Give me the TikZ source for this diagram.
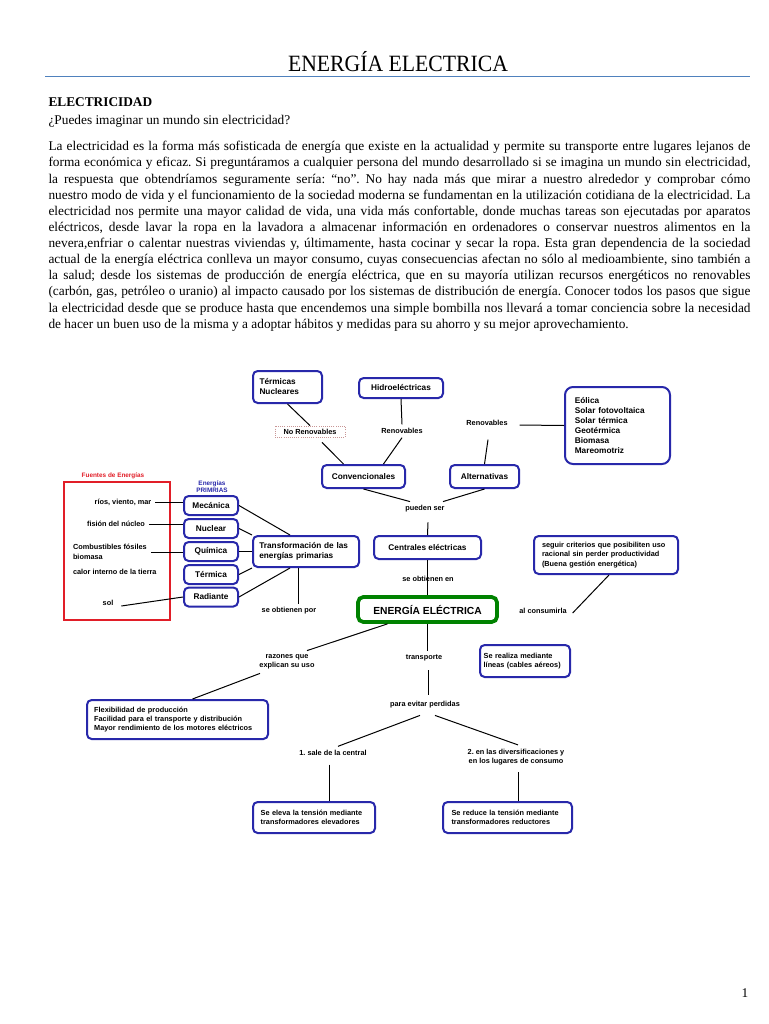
\documentclass[tikz,border=0pt]{standalone}
\usepackage{fontspec}
\setmainfont{Liberation Serif}
\newfontfamily\mapafam{Liberation Sans}
\newfontfamily\titulofam[FakeStretch=0.93]{Liberation Serif}
\usetikzlibrary{calc}
\frenchspacing

\definecolor{azulcaja}{RGB}{40,40,170}
\definecolor{verdecaja}{RGB}{0,130,0}
\definecolor{rojocaja}{RGB}{225,30,40}
\definecolor{lineatitulo}{RGB}{79,129,189}
\definecolor{puntos}{RGB}{200,150,150}

\newcommand{\cuerpo}{\fontsize{10}{12.1}\selectfont}
\newcommand{\mapa}{\mapafam\bfseries\fontsize{6.2}{7.5}\selectfont}
\newcommand{\mapachica}{\mapafam\bfseries\fontsize{5.5}{7}\selectfont}

\tikzset{every picture/.style={line width=0.75pt}}
\tikzset{
  caja/.style={draw=azulcaja, line width=1.5pt, rounded corners=3.5pt, fill=white, font=\mapa, inner sep=0pt, align=left},
  etiqueta/.style={font=\mapachica, inner sep=1pt, outer sep=2pt, align=center},
}

\begin{document}
\begin{tikzpicture}[x=0.75pt,y=0.75pt,yscale=-1,xscale=1]
\path[use as bounding box] (0,0) rectangle (768,1024);

%Title
\node[font=\titulofam\fontsize{17.5}{20}\selectfont] (titulo) at (398,62) {ENERGÍA ELECTRICA};
\draw[lineatitulo] (45,77) -- (750,77);

%Text
\node[anchor=base west, inner sep=0, font=\cuerpo\bfseries] (encabezado) at (48,107) {ELECTRICIDAD};
\node[anchor=base west, inner sep=0, font=\cuerpo] (pregunta) at (48,124) {¿Puedes imaginar un mundo sin electricidad?};
\node[anchor=north west, inner sep=0, text width=526.5pt, align=justify, font=\cuerpo] (parrafo) at (48,139) {\strut La electricidad es la forma más sofisticada de energía que existe en la actualidad y permite su transporte entre lugares lejanos de\linebreak
forma económica y eficaz. Si preguntáramos a cualquier persona del mundo desarrollado si se imagina un mundo sin electricidad,\linebreak
la respuesta que obtendríamos seguramente sería: “no”. No hay nada más que mirar a nuestro alrededor y comprobar cómo\linebreak
nuestro modo de vida y el funcionamiento de la sociedad moderna se fundamentan en la utilización cotidiana de la electricidad. La\linebreak
electricidad nos permite una mayor calidad de vida, una vida más confortable, donde muchas tareas son ejecutadas por aparatos\linebreak
eléctricos, desde lavar la ropa en la lavadora a almacenar información en ordenadores o conservar nuestros alimentos en la\linebreak
nevera,enfriar o calentar nuestras viviendas y, últimamente, hasta cocinar y secar la ropa. Esta gran dependencia de la sociedad\linebreak
actual de la energía eléctrica conlleva un mayor consumo, cuyas consecuencias afectan no sólo al medioambiente, sino también a\linebreak
la salud; desde los sistemas de producción de energía eléctrica, que en su mayoría utilizan recursos energéticos no renovables\linebreak
(carbón, gas, petróleo o uranio) al impacto causado por los sistemas de distribución de energía. Conocer todos los pasos que sigue\linebreak
la electricidad desde que se produce hasta que encendemos una simple bombilla nos llevará a tomar conciencia sobre la necesidad\linebreak
de hacer un buen uso de la misma y a adoptar hábitos y medidas para su ahorro y su mejor aprovechamiento.};

%Boxes
\node[caja, minimum width=51.75pt, minimum height=24pt, text width=42pt] (termicas) at (287.5,387) {Térmicas\\Nucleares};
\node[caja, minimum width=63pt, minimum height=15pt, align=center] (hidro) at (401,388) {Hidroeléctricas};
\node[caja, minimum width=78.75pt, minimum height=57.75pt, text width=64pt, rounded corners=6pt] (eolica) at (617.5,425.5) {Eólica\\Solar fotovoltaica\\Solar térmica\\Geotérmica\\Biomasa\\Mareomotriz};
\node[draw=puntos, densely dotted, line width=0.6pt, minimum width=52.5pt, minimum height=8.25pt, inner sep=0pt, font=\mapachica] (norenov) at (310,431.5) {No Renovables};
\node[caja, minimum width=62.25pt, minimum height=17.25pt, align=center] (conv) at (363.5,476.5) {Convencionales};
\node[caja, minimum width=51.75pt, minimum height=17.25pt, align=center] (alt) at (484.5,476.5) {Alternativas};
\node[caja, minimum width=80.25pt, minimum height=17.25pt, align=center] (centrales) at (427.5,547.5) {Centrales eléctricas};
\node[caja, minimum width=79.5pt, minimum height=23.25pt, text width=70pt] (transf) at (306,551.5) {Transformación de las\\energías primarias};
\node[caja, font=\mapachica, minimum width=108pt, minimum height=28.5pt, text width=96pt] (criterios) at (606,555) {seguir criterios que posibiliten uso\\racional sin perder productividad\\(Buena gestión energética)};
\node[caja, draw=verdecaja, line width=2.8pt, rounded corners=4pt, minimum width=104.25pt, minimum height=18.75pt, align=center, font=\mapafam\bfseries\fontsize{7.7}{9}\selectfont] (energia) at (427.5,609.5) {ENERGÍA ELÉCTRICA};
\node[caja, font=\mapachica, minimum width=67.5pt, minimum height=24pt, text width=62pt] (realiza) at (525,661) {Se realiza mediante\\líneas (cables aéreos)};
\node[caja, font=\mapachica, minimum width=135.75pt, minimum height=29.25pt, text width=125pt] (flex) at (177.5,719.5) {Flexibilidad de producción\\Facilidad para el transporte y distribución\\Mayor rendimiento de los motores eléctricos};
\node[caja, font=\mapachica, minimum width=91.5pt, minimum height=23.25pt, text width=80pt] (eleva) at (314,817.5) {Se eleva la tensión mediante\\transformadores elevadores};
\node[caja, font=\mapachica, minimum width=96.75pt, minimum height=23.25pt, text width=84pt] (reduce) at (507.5,817.5) {Se reduce la tensión mediante\\transformadores reductores};

%Primary energies
\node[draw=rojocaja, line width=1.5pt, minimum width=79.5pt, minimum height=103.5pt] (fuentesbox) at (117,551) {};
\node[etiqueta, font=\mapafam\bfseries\fontsize{4.8}{5.5}\selectfont, text=rojocaja] (fuentes) at (113,476) {Fuentes de Energías};
\node[etiqueta, font=\mapafam\bfseries\fontsize{4.8}{5.5}\selectfont, text=azulcaja] (primarias) at (212,487) {Energías\\PRIMRIAS};
\foreach \nombre/\texto/\y in {mecanica/Mecánica/505.5, nuclear/Nuclear/528.5, quimica/Química/551.5, termica/Térmica/574.5, radiante/Radiante/597}
  \node[caja, minimum width=40.5pt, minimum height=14.25pt, align=center] (\nombre) at (211,\y) {\texto};
\node[etiqueta] (rios) at (123,502) {ríos, viento, mar};
\node[etiqueta] (fision) at (116,524) {fisión del núcleo};
\node[etiqueta, anchor=west, align=left] (combust) at (69,552) {Combustibles fósiles\\biomasa};
\node[etiqueta, anchor=west, align=left] (calor) at (69,572) {calor interno de la tierra};
\node[etiqueta] (sol) at (108,603) {sol};

%Labels
\node[etiqueta] (renov1) at (402,431) {Renovables};
\node[etiqueta] (renov2) at (487,423) {Renovables};
\node[etiqueta] (puedenser) at (425,509) {pueden ser};
\node[etiqueta] (obtpor) at (289,611) {se obtienen por};
\node[etiqueta] (consumirla) at (543,611) {al consumirla};
\node[etiqueta] (razones) at (287,662) {razones que\\explican su uso};
\node[etiqueta] (transporte) at (424,658) {transporte};
\node[etiqueta] (evitar) at (425,705) {para evitar perdidas};
\node[etiqueta] (sale) at (333,753) {1. sale de la central};
\node[etiqueta] (diversif) at (516,757) {2. en las diversificaciones y\\en los lugares de consumo};

%Connectors
\draw (termicas.south) -- (norenov.north);
\draw ($(norenov.south)+(12,5)$) -- ($(conv.north)+(-20,0)$);
\draw (hidro.south) -- (renov1.north);
\draw (renov1.south) -- ($(conv.north)+(20,0)$);
\draw ($(renov2.east)+(8,2)$) -- (eolica.west);
\draw ($(renov2.south)+(1,10)$) -- (alt.north);
\draw (conv.south) -- ($(puedenser.north)+(-15,0)$);
\draw (alt.south) -- ($(puedenser.north)+(18,0)$);
\draw ($(puedenser.south)+(3,6)$) -- (centrales.north);
\draw (centrales.south) -- (energia.north);
\node[etiqueta] (obtenen) at (428,579) {se obtienen en};
\draw ($(transf.south)+(-8,0)$) -- ($(obtpor.north)+(9,0)$);
\draw ($(obtpor.east)+(0,2)$) -- ($(obtpor.east)+(0,2)$ -| energia.west);
\draw ($(consumirla.west)+(0,2)$) -- ($(consumirla.west)+(0,2)$ -| energia.east);
\draw ($(consumirla.east)+(2,2)$) -- ($(criterios.south)+(3,0)$);
\draw ($(energia.south)+(-40,0)$) -- ($(razones.north)+(20,0)$);
\draw ($(razones.south)+(-27,0)$) -- ($(flex.north)+(15,0)$);
\draw (energia.south) -- (energia.south |- transporte.north);
\draw ($(transporte.east)+(0,2)$) -- ($(transporte.east)+(0,2)$ -| realiza.west);
\draw ($(transporte.south)+(4,5)$) -- ($(evitar.north)+(3,-3)$);
\draw ($(evitar.south)+(-5,3)$) -- ($(sale.north)+(5,0)$);
\draw ($(evitar.south)+(10,3)$) -- ($(diversif.north)+(2,0)$);
\draw ($(sale.south)+(-4,5)$) -- ($(eleva.north)+(15,0)$);
\draw ($(diversif.south)+(2,3)$) -- ($(reduce.north)+(10.5,0)$);
\draw (rios.east) -- (rios.east -| mecanica.west);
\draw (fision.east) -- (fision.east -| nuclear.west);
\draw (combust.east) -- (combust.east -| quimica.west);
\draw ($(calor.east)+(11,2)$) -- ($(calor.east)+(11,2)$ -| termica.west);
\draw ($(sol.east)+(4,3)$) -- (radiante.west);
\draw (mecanica.east) -- ($(transf.north)+(-16,0)$);
\draw (nuclear.east) -- (transf.north west);
\draw (quimica.east) -- (transf.west);
\draw (termica.east) -- (transf.south west);
\draw (radiante.east) -- ($(transf.south)+(-16,0)$);

%Page number
\node[font=\cuerpo] (pagina) at (745,993) {1};
\end{tikzpicture}
\end{document}
